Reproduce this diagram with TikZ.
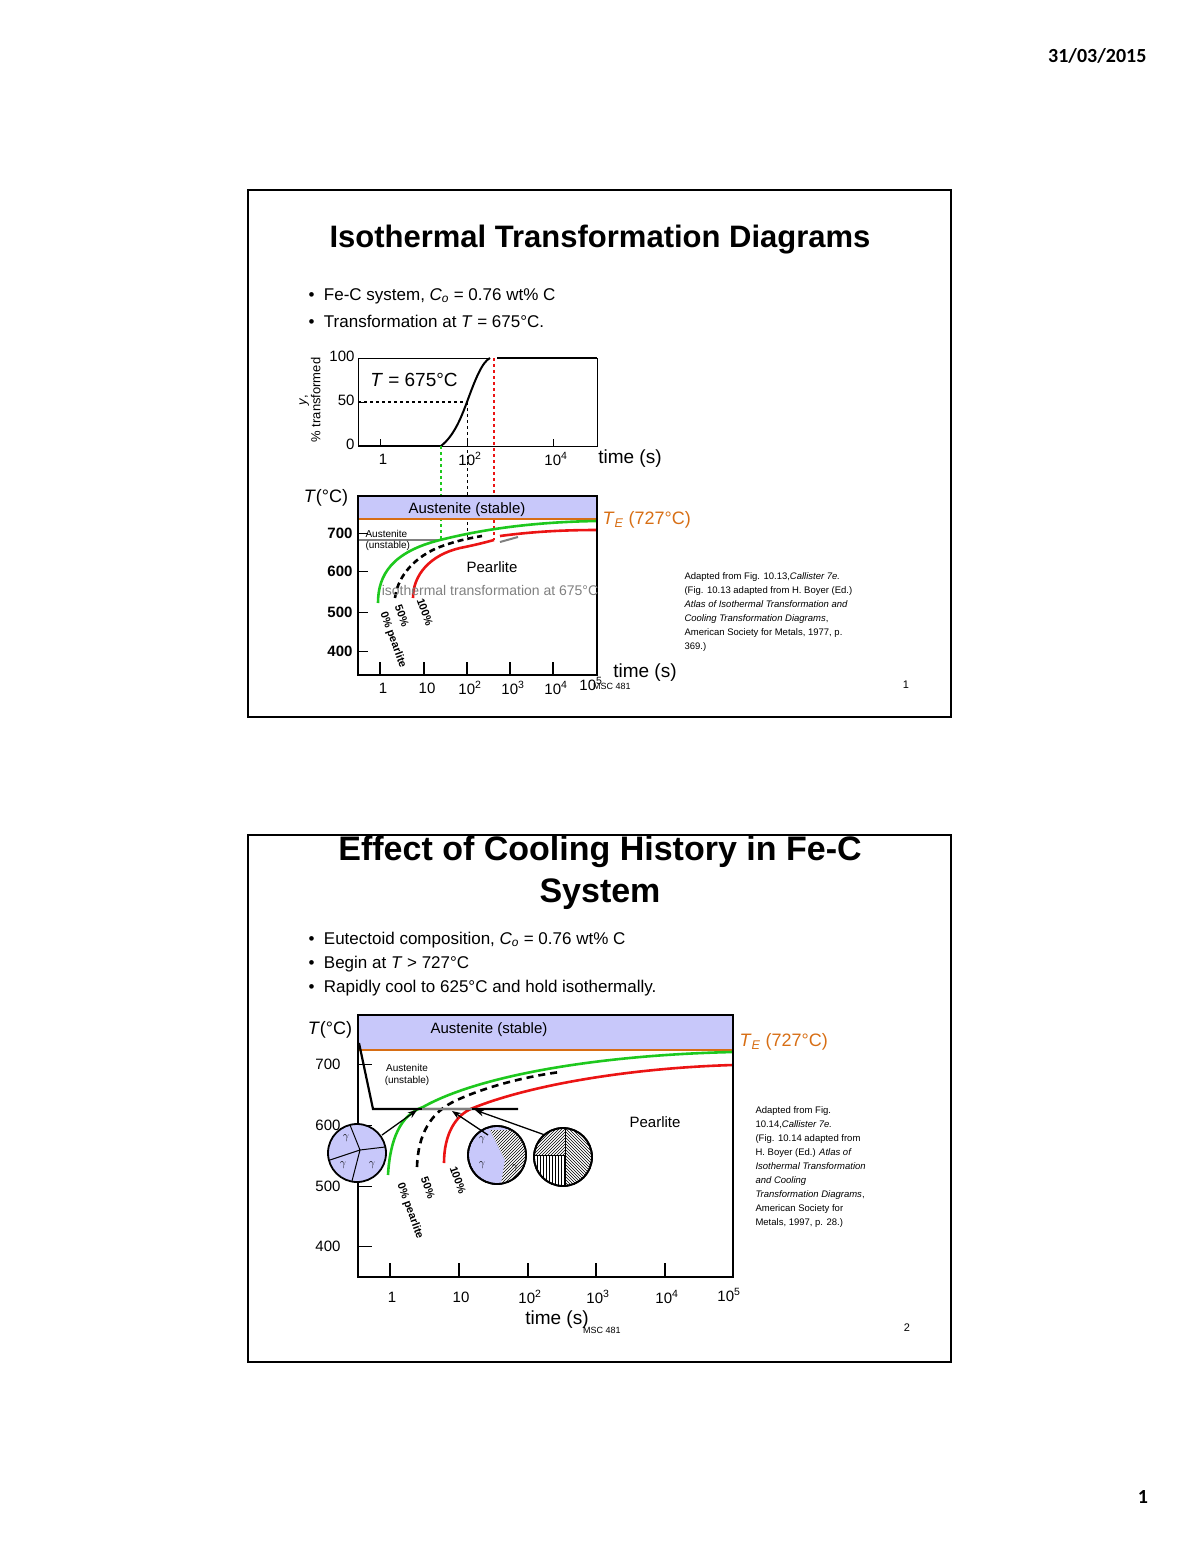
\documentclass[tikz,border=0pt]{standalone}
\usepackage{fontspec}
\setmainfont{Liberation Sans}
\newfontfamily\carlitofont{Carlito}
\usetikzlibrary{arrows.meta,patterns}
\definecolor{lav}{RGB}{200,200,250}
\definecolor{org}{RGB}{215,110,20}
\definecolor{grn}{RGB}{30,200,30}
\definecolor{rd}{RGB}{235,20,20}
\newcommand{\sps}[1]{\textsuperscript{#1}}
\tikzset{frame/.style={draw,line width=2.2pt},
 ttl/.style={font=\fontsize{30}{34}\selectfont\bfseries},
 body/.style={font=\fontsize{17}{20}\selectfont,anchor=west},
 ax/.style={font=\fontsize{15}{16}\selectfont},
 sm/.style={font=\fontsize{11}{12}\selectfont},
 cv/.style={line width=2.6pt},
 rot/.style={font=\fontsize{11}{11}\selectfont\bfseries,rotate=-70,inner sep=1pt}}
\begin{document}
\begin{tikzpicture}[x=1pt,y=-1pt]
\useasboundingbox (0,0) rectangle (1200,1553);
\node[anchor=north east,font=\fontsize{20}{20}\selectfont\carlitofont\bfseries] (date) at (1150,45) {31/03/2015};
\node[font=\fontsize{20}{20}\selectfont\carlitofont\bfseries] (pg) at (1143,1497) {1};
% ---------- slide 1
\draw[frame] (248,190) rectangle (951,717);
\node[ttl,font=\fontsize{31}{34}\selectfont\bfseries] (t1) at (600,240) {Isothermal Transformation Diagrams};
\node[body] (b1) at (305,296) {\textbullet\ \ Fe-C system, \textit{C\textsubscript{o}} = 0.76 wt\% C};
\node[body] (b2) at (305,321) {\textbullet\ \ Transformation at \textit{T} = 675°C.};
% top plot
\draw[line width=1pt] (490,358) -- (358,358) -- (358,446) -- (597,446) -- (597,358);
\draw[line width=2.5pt] (497,358) -- (597,358);
\draw[line width=2pt] (358,446) -- (441,446);
\foreach \y/\l in {358/100,402/50,446/0}{\draw (358,\y) -- (364,\y); \node[ax,anchor=east] at (358,\y-2) {\l};}
\foreach \x/\l in {380/1,467/10\sps{2},553/10\sps{4}}{\draw (\x,446) -- (\x,439); \node[ax] at (\x+3,459) {\l};}
\node[ax,font=\fontsize{19}{20}\selectfont] (tm1) at (630,459) {time (s)};
\node[ax,rotate=90,align=center,font=\fontsize{13}{14}\selectfont] (yl) at (310,400) {\textit{y},\\ \% transformed};
\node[font=\fontsize{19}{20}\selectfont] (T1) at (414,380) {\textit{T} = 675°C};
\draw[line width=2pt] (441,446) .. controls (455,435) and (462,415) .. (467,402) .. controls (475,380) and (482,362) .. (490,358);
\draw[dashed,line width=1.5pt] (358,402) -- (467,402);
\draw[grn,dashed,line width=1.5pt] (441,446) -- (441,540);
\draw[dashed] (467,402) -- (467,540);
\draw[rd,dashed,line width=1.2pt] (494,358) -- (494,540);
% bottom plot
\fill[lav] (358,496) rectangle (597,519);
\node[ax] (aus1) at (467,510) {Austenite (stable)};
\draw[org,line width=1.5pt] (358,519) -- (597,519);
\draw[gray,line width=2pt] (358,540) -- (440,540);
\node[sm,align=left,anchor=west,font=\fontsize{10}{11}\selectfont] (au1) at (362,540) {Austenite\\(unstable)};
\draw[cv,grn] (378,603) .. controls (378,575) and (392,552) .. (440,540) .. controls (480,530) and (530,522) .. (597,521);
\draw[line width=2.6pt,dash pattern=on 6pt off 4pt] (395,598) .. controls (397,580) and (410,560) .. (437,548) .. controls (455,541) and (470,538) .. (482,536);
\draw[cv,rd] (413,598) .. controls (413,575) and (430,555) .. (460,548) .. controls (480,544) and (490,541) .. (494,540);
\draw[cv,rd] (500,536) .. controls (530,532) and (560,530) .. (597,530);
\draw[gray,line width=2pt] (500,542) -- (518,537);
\draw[line width=1.2pt] (358,496) rectangle (597,675);
\foreach \y/\l in {533/700,571/600,612/500,651/400}{\draw (358,\y) -- (368,\y); \node[ax,anchor=east] at (356,\y) {\textbf{\l}};}
\foreach \x/\l in {380/1,424/10,467/10\sps{2},510/10\sps{3},553/10\sps{4}}{\draw[line width=2pt] (\x,675) -- (\x,662); \node[ax] at (\x+3,688) {\l};}
\node[ax] (t5) at (591,684) {10\sps{5}};
\node[ax,font=\fontsize{19}{20}\selectfont] (tm2) at (645,673) {time (s)};
\node[ax,font=\fontsize{18}{20}\selectfont] (Tc1) at (326,498) {\textit{T}(°C)};
\node[ax,org,anchor=west,font=\fontsize{18}{20}\selectfont] (te1) at (599,520) {\textit{T}\textsubscript{\textit{E}} (727°C)};
\node[ax] (p1) at (492,567) {Pearlite};
\node[ax,gray,font=\fontsize{14}{16}\selectfont] (iso) at (490,590) {isothermal transformation at 675°C};
\node[rot] at (393,640) {0\% pearlite};
\node[rot] at (402,616) {50\%};
\node[rot] at (425,612) {100\%};
\node[font=\fontsize{9}{10}\selectfont] (m1) at (612,686) {MSC 481};
\node[sm,anchor=north west,align=left,font=\fontsize{9.5}{14}\selectfont] (ref1) at (681,569) {Adapted from Fig. 10.13,\textit{Callister 7e.}\\(Fig. 10.13 adapted from H. Boyer (Ed.)\\\textit{Atlas of Isothermal Transformation and}\\\textit{Cooling Transformation Diagrams},\\American Society for Metals, 1977, p.\\369.)};
\node[sm] (n1) at (906,685) {1};
% ---------- slide 2
\draw[frame] (248,835) rectangle (951,1362);
\node[ttl,align=center,font=\fontsize{34}{42}\selectfont\bfseries] (t2) at (600,873) {Effect of Cooling History in Fe-C\\System};
\node[body] (c1) at (305,940) {\textbullet\ \ Eutectoid composition, \textit{C\textsubscript{o}} = 0.76 wt\% C};
\node[body] (c2) at (305,964) {\textbullet\ \ Begin at \textit{T} > 727°C};
\node[body] (c3) at (305,988) {\textbullet\ \ Rapidly cool to 625°C and hold isothermally.};
\fill[lav] (358,1015) rectangle (733,1050);
\node[ax] (aus2) at (489,1030) {Austenite (stable)};
\draw[org,line width=1.5pt] (358,1050) -- (733,1050);
\node[sm,align=center,font=\fontsize{10}{12}\selectfont] (au2) at (407,1075) {Austenite\\(unstable)};
\draw[cv,grn] (388,1175) .. controls (390,1140) and (400,1115) .. (423,1107) .. controls (480,1075) and (600,1055) .. (733,1052);
\draw[line width=2.6pt,dash pattern=on 7pt off 5pt] (417,1167) .. controls (418,1135) and (430,1112) .. (457,1100) .. controls (490,1085) and (530,1076) .. (560,1072);
\draw[cv,rd] (444,1163) .. controls (444,1135) and (455,1115) .. (473,1108) .. controls (530,1085) and (630,1068) .. (733,1065);
\draw[line width=2.2pt] (359,1043) -- (373,1109) -- (518,1109);
\draw[gray,line width=2.5pt] (422,1109) -- (472,1109);
\draw[line width=1.2pt] (358,1015) rectangle (733,1277);
\foreach \y/\l in {1064/700,1125/600,1186/500,1246/400}{\draw (358,\y) -- (372,\y); \node[ax,anchor=east] at (344,\y) {\l};}
\foreach \x/\l in {390/1,459/10,528/10\sps{2},596/10\sps{3},665/10\sps{4}}{\draw[line width=1.5pt] (\x,1277) -- (\x,1263); \node[ax] at (\x+2,1297) {\l};}
\node[ax] (t52) at (729,1295) {10\sps{5}};
\node[ax,font=\fontsize{19}{20}\selectfont] (tm3) at (557,1320) {time (s)};
\node[font=\fontsize{9}{10}\selectfont] (m2) at (602,1330) {MSC 481};
\node[ax,font=\fontsize{18}{20}\selectfont] (Tc2) at (330,1030) {\textit{T}(°C)};
\node[ax,org,anchor=west,font=\fontsize{18}{20}\selectfont] (te2) at (736,1042) {\textit{T}\textsubscript{\textit{E}} (727°C)};
\node[ax] (p2) at (655,1122) {Pearlite};
\node[rot] at (410,1211) {0\% pearlite};
\node[rot] at (428,1188) {50\%};
\node[rot] at (458,1180) {100\%};
% circles
\node[circle,draw,line width=1.8pt,fill=lav,minimum size=58pt,inner sep=0] (g1) at (357,1153) {};
\draw[line width=1pt] (350,1125) -- (360,1150) -- (385,1147) (360,1150) -- (352,1181) (360,1150) -- (330,1160);
\node[sm] at (346,1138) {$\gamma$}; \node[sm] at (343,1165) {$\gamma$}; \node[sm] at (372,1165) {$\gamma$};
\node[circle,draw,line width=1.8pt,fill=lav,minimum size=58pt,inner sep=0] (g2) at (497,1155) {};
\begin{scope}\clip (497,1155) circle (29);
\fill[white] (490,1130) -- (530,1130) -- (530,1190) -- (500,1190) -- (505,1160) -- cycle;
\fill[pattern=north east lines] (490,1130) -- (530,1130) -- (530,1190) -- (500,1190) -- (505,1160) -- cycle;
\end{scope}
\draw[line width=1.8pt] (g2) circle (29);
\node[sm] at (482,1140) {$\gamma$}; \node[sm] at (482,1165) {$\gamma$}; \node[sm] at (515,1168) {$\gamma$};
\node[circle,draw,line width=1.8pt,fill=white,minimum size=58pt,inner sep=0] (g3) at (563,1157) {};
\begin{scope}\clip (563,1157) circle (29);
\fill[pattern=north east lines] (530,1120) rectangle (565,1155);
\fill[pattern=vertical lines] (530,1155) rectangle (565,1190);
\fill[pattern=north west lines] (565,1120) rectangle (600,1190);
\draw (565,1120) -- (565,1190) (530,1155) -- (565,1155);
\end{scope}
\draw[line width=1.8pt] (g3) circle (29);
\coordinate (a1) at (417,1110); \coordinate (a2) at (452,1111); \coordinate (a3) at (475,1110);
\draw[-{Stealth[length=9pt]},line width=1.3pt] (382,1135) -- (a1);
\draw[-{Stealth[length=9pt]},line width=1.3pt] (488,1135) -- (a2);
\draw[-{Stealth[length=9pt]},line width=1.3pt] (545,1135) -- (a3);
\node[sm,anchor=north west,align=left,font=\fontsize{9.5}{14}\selectfont] (ref2) at (752,1103) {Adapted from Fig.\\10.14,\textit{Callister 7e.}\\(Fig. 10.14 adapted from\\H. Boyer (Ed.) \textit{Atlas of}\\\textit{Isothermal Transformation}\\\textit{and Cooling}\\\textit{Transformation Diagrams},\\American Society for\\Metals, 1997, p. 28.)};
\node[sm] (n2) at (907,1328) {2};
\end{tikzpicture}
\end{document}
